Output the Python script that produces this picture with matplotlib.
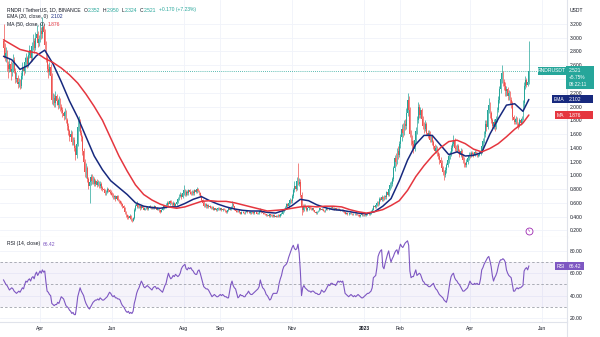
"""RNDR/USDT daily candles with EMA 20, MA 50 and an RSI 14 pane."""
import matplotlib

matplotlib.use("Agg")
import matplotlib.dates as mdates
import matplotlib.pyplot as plt
import numpy as np
import pandas as pd
from matplotlib.patches import Rectangle
from matplotlib.ticker import FormatStrFormatter, FuncFormatter
from matplotlib.transforms import blended_transform_factory

plt.rcParams["font.family"] = ["Liberation Sans", "DejaVu Sans"]

start_date = "2022-03-01"
first_open = 2.95

# daily closes, one row per week
closes = [
    2.85, 2.72, 2.78, 2.60, 2.55, 2.62, 2.50,
    2.55, 2.68, 2.52, 2.40, 2.42, 2.33, 2.36,
    2.30, 2.45, 2.58, 2.52, 2.65, 2.70, 2.62,
    2.75, 2.82, 2.70, 2.88, 2.95, 2.85, 3.00,
    3.05, 2.92, 2.98, 3.10, 3.05, 3.15, 3.08,
    2.90, 2.70, 2.55, 2.50, 2.58, 2.45, 2.10,
    2.12, 2.05, 2.15, 2.08, 2.02, 2.10, 2.00,
    1.95, 1.90, 1.86, 1.92, 1.80, 1.72, 1.65,
    1.55, 1.60, 1.48, 1.52, 1.40, 1.30, 1.45,
    1.70, 1.78, 1.62, 1.55, 1.35, 1.20, 1.05,
    1.10, 0.95, 0.85, 0.90, 0.98, 0.92, 0.95,
    0.88, 0.92, 0.86, 0.90, 0.84, 0.88, 0.82,
    0.80, 0.78, 0.74, 0.76, 0.80, 0.78, 0.76,
    0.74, 0.72, 0.68, 0.70, 0.66, 0.70, 0.64,
    0.62, 0.60, 0.58, 0.55, 0.52, 0.46, 0.42,
    0.40, 0.38, 0.41, 0.36, 0.34, 0.38, 0.50,
    0.55, 0.58, 0.54, 0.56, 0.52, 0.55, 0.53,
    0.50, 0.52, 0.54, 0.51, 0.53, 0.55, 0.52,
    0.54, 0.52, 0.55, 0.53, 0.50, 0.52, 0.49,
    0.47, 0.50, 0.52, 0.55, 0.53, 0.57, 0.60,
    0.58, 0.62, 0.60, 0.57, 0.60, 0.56, 0.58,
    0.61, 0.66, 0.70, 0.72, 0.68, 0.74, 0.78,
    0.72, 0.76, 0.74, 0.78, 0.75, 0.73, 0.76,
    0.74, 0.78, 0.76, 0.80, 0.77, 0.74, 0.70,
    0.64, 0.60, 0.56, 0.58, 0.55, 0.57, 0.54,
    0.55, 0.52, 0.54, 0.50, 0.52, 0.49, 0.51,
    0.53, 0.50, 0.52, 0.49, 0.51, 0.50, 0.48,
    0.46, 0.49, 0.52, 0.50, 0.53, 0.58, 0.55,
    0.50, 0.48, 0.47, 0.49, 0.46, 0.44, 0.47,
    0.46, 0.45, 0.47, 0.48, 0.46, 0.47, 0.45,
    0.47, 0.46, 0.45, 0.47, 0.46, 0.44, 0.45,
    0.48, 0.50, 0.46, 0.45, 0.44, 0.43, 0.42,
    0.42, 0.41, 0.43, 0.42, 0.41, 0.42, 0.40,
    0.41, 0.40, 0.42, 0.41, 0.43, 0.44, 0.48,
    0.50, 0.54, 0.58, 0.55, 0.60, 0.64, 0.62,
    0.70, 0.78, 0.85, 0.80, 0.92, 0.88, 0.90,
    0.72, 0.55, 0.50, 0.56, 0.54, 0.50, 0.52,
    0.54, 0.52, 0.50, 0.52, 0.49, 0.47, 0.45,
    0.47, 0.49, 0.52, 0.50, 0.51, 0.49, 0.48,
    0.50, 0.52, 0.51, 0.53, 0.52, 0.54, 0.52,
    0.53, 0.51, 0.52, 0.50, 0.51, 0.50, 0.49,
    0.50, 0.48, 0.46, 0.44, 0.45, 0.43, 0.44,
    0.45, 0.44, 0.43, 0.44, 0.43, 0.44, 0.43,
    0.42, 0.41, 0.42, 0.43, 0.42, 0.43, 0.42,
    0.43, 0.44, 0.43, 0.45, 0.48, 0.50, 0.55,
    0.54, 0.57, 0.60, 0.58, 0.66, 0.64, 0.68,
    0.66, 0.70, 0.68, 0.75, 0.72, 0.80, 0.86,
    0.88, 0.95, 1.10, 1.25, 1.20, 1.35, 1.30,
    1.45, 1.55, 1.68, 1.62, 1.75, 1.72, 1.90,
    2.10, 1.95, 1.60, 1.50, 1.45, 1.38, 1.52,
    1.65, 1.80, 2.00, 1.88, 1.95, 1.82, 1.72,
    1.68, 1.75, 1.62, 1.58, 1.62, 1.52, 1.55,
    1.48, 1.42, 1.36, 1.40, 1.32, 1.28, 1.22,
    1.18, 1.10, 1.05, 1.00, 1.08, 1.15, 1.22,
    1.28, 1.32, 1.40, 1.45, 1.52, 1.40, 1.38,
    1.42, 1.35, 1.30, 1.36, 1.28, 1.22, 1.18,
    1.15, 1.20, 1.25, 1.30, 1.28, 1.33, 1.31,
    1.30, 1.34, 1.32, 1.28, 1.30, 1.33, 1.35,
    1.42, 1.50, 1.60, 1.75, 1.70, 1.95, 2.02,
    1.90, 1.80, 1.72, 1.78, 1.70, 1.82, 1.95,
    2.10, 2.25, 2.40, 2.48, 2.35, 2.30, 2.22,
    2.25, 2.15, 2.20, 2.10, 2.05, 1.85, 1.80,
    1.78, 1.82, 1.75, 1.72, 1.80, 1.76, 1.82,
    2.05, 2.30, 2.38, 2.32, 2.352, 2.521,
]

highs = [
    3.20, 2.92, 2.86, 2.82, 2.66, 2.70, 2.66,
    2.64, 2.76, 2.72, 2.56, 2.50, 2.46, 2.42,
    2.40, 2.50, 2.64, 2.64, 2.72, 2.78, 2.74,
    2.80, 2.90, 2.86, 2.94, 3.05, 3.00, 3.08,
    3.18, 3.10, 3.04, 3.22, 3.16, 3.30, 3.20,
    3.12, 2.95, 2.76, 2.62, 2.64, 2.62, 2.48,
    2.20, 2.18, 2.22, 2.18, 2.12, 2.16, 2.12,
    2.04, 1.99, 1.94, 1.98, 1.95, 1.84, 1.76,
    1.68, 1.66, 1.64, 1.56, 1.55, 1.44, 1.50,
    1.80, 1.86, 1.82, 1.66, 1.58, 1.40, 1.24,
    1.18, 1.14, 0.98, 0.94, 1.02, 1.02, 0.99,
    0.97, 0.95, 0.94, 0.93, 0.92, 0.91, 0.90,
    0.84, 0.82, 0.80, 0.78, 0.83, 0.82, 0.80,
    0.78, 0.76, 0.74, 0.72, 0.72, 0.72, 0.71,
    0.66, 0.64, 0.62, 0.60, 0.57, 0.54, 0.48,
    0.44, 0.42, 0.43, 0.42, 0.38, 0.40, 0.52,
    0.58, 0.63, 0.59, 0.58, 0.57, 0.57, 0.56,
    0.54, 0.53, 0.56, 0.55, 0.54, 0.57, 0.56,
    0.56, 0.55, 0.57, 0.56, 0.54, 0.53, 0.53,
    0.50, 0.51, 0.54, 0.57, 0.56, 0.59, 0.63,
    0.62, 0.64, 0.64, 0.61, 0.62, 0.61, 0.60,
    0.63, 0.68, 0.73, 0.76, 0.74, 0.77, 0.86,
    0.80, 0.78, 0.78, 0.80, 0.80, 0.77, 0.78,
    0.78, 0.80, 0.80, 0.83, 0.82, 0.79, 0.76,
    0.72, 0.66, 0.62, 0.60, 0.60, 0.58, 0.58,
    0.57, 0.56, 0.55, 0.55, 0.53, 0.53, 0.52,
    0.54, 0.54, 0.53, 0.53, 0.52, 0.52, 0.51,
    0.49, 0.50, 0.53, 0.53, 0.55, 0.63, 0.59,
    0.56, 0.51, 0.49, 0.50, 0.50, 0.47, 0.48,
    0.48, 0.47, 0.48, 0.49, 0.49, 0.48, 0.48,
    0.48, 0.48, 0.47, 0.48, 0.48, 0.47, 0.46,
    0.49, 0.52, 0.51, 0.47, 0.46, 0.45, 0.44,
    0.43, 0.43, 0.44, 0.44, 0.43, 0.43, 0.43,
    0.42, 0.42, 0.43, 0.43, 0.44, 0.46, 0.50,
    0.52, 0.56, 0.60, 0.60, 0.62, 0.67, 0.66,
    0.73, 0.82, 0.92, 0.88, 0.98, 1.18, 0.96,
    0.94, 0.76, 0.58, 0.58, 0.58, 0.56, 0.54,
    0.56, 0.56, 0.54, 0.53, 0.53, 0.50, 0.48,
    0.48, 0.50, 0.53, 0.53, 0.52, 0.52, 0.50,
    0.51, 0.53, 0.53, 0.54, 0.54, 0.55, 0.55,
    0.54, 0.54, 0.53, 0.53, 0.52, 0.52, 0.51,
    0.51, 0.51, 0.49, 0.47, 0.46, 0.46, 0.45,
    0.46, 0.46, 0.45, 0.45, 0.45, 0.45, 0.45,
    0.44, 0.43, 0.43, 0.44, 0.44, 0.44, 0.44,
    0.44, 0.45, 0.45, 0.46, 0.49, 0.52, 0.57,
    0.57, 0.59, 0.62, 0.62, 0.68, 0.69, 0.71,
    0.70, 0.72, 0.72, 0.77, 0.78, 0.82, 0.90,
    0.92, 0.98, 1.14, 1.30, 1.32, 1.40, 1.42,
    1.50, 1.60, 1.74, 1.76, 1.80, 1.82, 1.98,
    2.20, 2.16, 2.00, 1.66, 1.58, 1.52, 1.56,
    1.70, 1.86, 2.06, 2.04, 2.00, 1.98, 1.86,
    1.78, 1.80, 1.78, 1.66, 1.66, 1.64, 1.58,
    1.58, 1.52, 1.46, 1.44, 1.42, 1.36, 1.32,
    1.26, 1.22, 1.14, 1.08, 1.12, 1.18, 1.26,
    1.32, 1.36, 1.44, 1.50, 1.58, 1.54, 1.44,
    1.46, 1.45, 1.38, 1.40, 1.38, 1.31, 1.26,
    1.20, 1.23, 1.28, 1.34, 1.34, 1.36, 1.36,
    1.34, 1.37, 1.36, 1.34, 1.33, 1.35, 1.38,
    1.46, 1.54, 1.65, 1.80, 1.80, 2.00, 2.12,
    2.06, 1.94, 1.84, 1.82, 1.80, 1.86, 2.00,
    2.16, 2.30, 2.46, 2.60, 2.52, 2.40, 2.36,
    2.30, 2.28, 2.24, 2.22, 2.14, 2.08, 1.88,
    1.84, 1.86, 1.85, 1.78, 1.83, 1.83, 1.86,
    2.10, 2.36, 2.45, 2.42, 2.40, 2.950,
]

lows = [
    2.70, 2.66, 2.64, 2.52, 2.42, 2.50, 2.38,
    2.44, 2.50, 2.48, 2.34, 2.35, 2.27, 2.28,
    2.26, 2.27, 2.40, 2.46, 2.48, 2.58, 2.56,
    2.58, 2.70, 2.64, 2.66, 2.82, 2.78, 2.82,
    2.94, 2.86, 2.88, 2.94, 2.98, 3.00, 3.00,
    2.84, 2.64, 2.50, 2.42, 2.46, 2.38, 2.04,
    2.02, 2.00, 2.00, 2.02, 1.96, 1.98, 1.94,
    1.90, 1.85, 1.80, 1.82, 1.76, 1.66, 1.58,
    1.50, 1.50, 1.44, 1.44, 1.36, 1.22, 1.25,
    1.42, 1.64, 1.58, 1.50, 1.30, 1.12, 0.98,
    0.96, 0.90, 0.80, 0.60, 0.86, 0.88, 0.88,
    0.85, 0.85, 0.83, 0.84, 0.81, 0.82, 0.79,
    0.77, 0.75, 0.71, 0.72, 0.74, 0.75, 0.73,
    0.71, 0.69, 0.66, 0.66, 0.63, 0.64, 0.62,
    0.60, 0.58, 0.56, 0.53, 0.50, 0.44, 0.39,
    0.37, 0.36, 0.36, 0.34, 0.32, 0.33, 0.37,
    0.48, 0.53, 0.52, 0.52, 0.50, 0.51, 0.51,
    0.49, 0.49, 0.51, 0.50, 0.50, 0.52, 0.51,
    0.51, 0.51, 0.51, 0.52, 0.49, 0.49, 0.47,
    0.45, 0.46, 0.49, 0.51, 0.52, 0.52, 0.56,
    0.56, 0.57, 0.58, 0.55, 0.56, 0.55, 0.55,
    0.57, 0.60, 0.64, 0.68, 0.66, 0.67, 0.72,
    0.70, 0.70, 0.72, 0.72, 0.73, 0.71, 0.71,
    0.72, 0.72, 0.74, 0.74, 0.75, 0.72, 0.68,
    0.62, 0.58, 0.54, 0.54, 0.53, 0.53, 0.52,
    0.52, 0.51, 0.51, 0.49, 0.49, 0.48, 0.48,
    0.50, 0.49, 0.49, 0.48, 0.48, 0.49, 0.47,
    0.45, 0.45, 0.48, 0.49, 0.49, 0.52, 0.54,
    0.49, 0.47, 0.46, 0.46, 0.45, 0.43, 0.43,
    0.45, 0.44, 0.44, 0.46, 0.45, 0.45, 0.44,
    0.44, 0.45, 0.44, 0.44, 0.45, 0.43, 0.43,
    0.44, 0.47, 0.45, 0.44, 0.43, 0.42, 0.41,
    0.41, 0.40, 0.40, 0.41, 0.40, 0.40, 0.39,
    0.39, 0.39, 0.39, 0.40, 0.40, 0.42, 0.43,
    0.46, 0.49, 0.52, 0.53, 0.54, 0.58, 0.59,
    0.60, 0.67, 0.75, 0.77, 0.78, 0.86, 0.84,
    0.68, 0.42, 0.46, 0.48, 0.52, 0.48, 0.48,
    0.50, 0.51, 0.49, 0.49, 0.48, 0.46, 0.44,
    0.44, 0.46, 0.48, 0.49, 0.49, 0.48, 0.47,
    0.47, 0.49, 0.50, 0.50, 0.51, 0.51, 0.51,
    0.51, 0.50, 0.50, 0.49, 0.49, 0.49, 0.48,
    0.48, 0.47, 0.45, 0.43, 0.43, 0.42, 0.42,
    0.43, 0.43, 0.42, 0.42, 0.42, 0.42, 0.42,
    0.41, 0.40, 0.40, 0.41, 0.41, 0.41, 0.41,
    0.41, 0.42, 0.42, 0.42, 0.44, 0.47, 0.49,
    0.52, 0.53, 0.56, 0.56, 0.57, 0.62, 0.62,
    0.63, 0.64, 0.66, 0.66, 0.70, 0.70, 0.78,
    0.82, 0.85, 0.92, 1.06, 1.14, 1.16, 1.24,
    1.26, 1.40, 1.50, 1.56, 1.58, 1.66, 1.68,
    1.86, 1.90, 1.56, 1.44, 1.38, 1.32, 1.36,
    1.48, 1.60, 1.76, 1.84, 1.84, 1.78, 1.68,
    1.62, 1.64, 1.58, 1.54, 1.54, 1.48, 1.48,
    1.44, 1.38, 1.32, 1.33, 1.28, 1.24, 1.16,
    1.14, 1.06, 1.00, 0.93, 0.98, 1.04, 1.12,
    1.18, 1.24, 1.28, 1.36, 1.42, 1.36, 1.34,
    1.34, 1.32, 1.26, 1.27, 1.25, 1.18, 1.12,
    1.12, 1.12, 1.17, 1.22, 1.25, 1.26, 1.28,
    1.27, 1.28, 1.29, 1.26, 1.26, 1.28, 1.30,
    1.33, 1.38, 1.47, 1.56, 1.64, 1.68, 1.90,
    1.84, 1.76, 1.66, 1.68, 1.64, 1.68, 1.78,
    1.92, 2.05, 2.20, 2.34, 2.30, 2.24, 2.16,
    2.16, 2.10, 2.10, 2.04, 1.98, 1.80, 1.74,
    1.74, 1.74, 1.72, 1.68, 1.70, 1.73, 1.74,
    1.80, 2.00, 2.26, 2.28, 2.30, 2.324,
]

# RSI(14) per day, same weekly rows
rsi = [
    54, 52, 50, 49, 47, 45, 46,
    47, 46, 44, 43, 42, 43, 44,
    43, 45, 47, 46, 50, 53, 52,
    54, 55, 53, 56, 57, 55, 59,
    61, 58, 60, 62, 60, 63, 61,
    62, 52, 44, 43, 41, 40, 33,
    32, 31, 32, 32, 34, 33, 36,
    39, 38, 37, 34, 31, 30, 29,
    27, 26, 24, 25, 23, 23, 30,
    39, 43, 47, 44, 42, 40, 36,
    33, 31, 29, 28, 30, 32, 34,
    35, 36, 36, 37, 36, 38, 37,
    36, 36, 37, 38, 39, 41, 43,
    42, 40, 39, 40, 38, 38, 37,
    37, 36, 33, 31, 30, 28, 26,
    25, 26, 24, 25, 24, 26, 33,
    37, 42, 45, 47, 50, 53, 51,
    48, 47, 48, 49, 48, 47, 46,
    45, 47, 48, 48, 46, 47, 46,
    45, 44, 43, 46, 49, 51, 56,
    60, 57, 55, 56, 58, 57, 59,
    58, 57, 58, 60, 64, 66, 67,
    68, 64, 63, 65, 64, 65, 63,
    62, 60, 59, 59, 62, 63, 60,
    56, 52, 48, 47, 46, 46, 45,
    43, 41, 39, 40, 41, 40, 39,
    39, 40, 41, 40, 41, 40, 39,
    39, 38, 38, 44, 50, 53, 49,
    47, 46, 42, 38, 39, 41, 40,
    40, 39, 39, 41, 42, 44, 42,
    41, 41, 42, 43, 44, 45, 46,
    48, 54, 50, 47, 46, 44, 41,
    40, 38, 36, 37, 40, 42, 42,
    42, 42, 45, 51, 55, 58, 63,
    66, 67, 68, 70, 74, 77, 80,
    83, 85, 82, 81, 82, 86, 78,
    62, 40, 47, 49, 47, 46, 45,
    44, 44, 43, 44, 44, 43, 42,
    42, 41, 41, 42, 45, 44, 43,
    44, 46, 48, 50, 49, 51, 51,
    50, 50, 49, 51, 53, 52, 53,
    52, 53, 48, 42, 41, 40, 39,
    40, 41, 40, 39, 40, 39, 40,
    41, 40, 39, 38, 38, 39, 40,
    41, 42, 42, 43, 44, 47, 56,
    57, 58, 65, 75, 78, 80, 81,
    66, 64, 69, 73, 77, 80, 74,
    70, 73, 75, 78, 80, 81, 77,
    82, 86, 84, 83, 85, 87, 88,
    89, 85, 62, 56, 57, 57, 60,
    63, 58, 59, 60, 59, 56, 53,
    52, 50, 50, 49, 48, 48, 49,
    50, 51, 48, 46, 45, 43, 41,
    40, 39, 38, 36, 35, 34, 38,
    45, 52, 57, 59, 60, 56, 54,
    53, 51, 50, 48, 46, 44, 44,
    45, 46, 47, 50, 53, 51, 50,
    50, 51, 50, 51, 50, 50, 55,
    63, 65, 68, 70, 72, 74, 75,
    71, 66, 58, 53, 56, 58, 61,
    66, 70, 72, 72, 73, 72, 70,
    63, 60, 58, 57, 56, 50, 44,
    44, 46, 47, 46, 47, 47, 48,
    49, 62, 64, 65, 63, 66.42,
]

# EMA(20) and MA(50) read every 7th day, plus the last day
ema20 = [
    2.73, 2.68, 2.54, 2.60, 2.74, 2.82, 2.62, 2.36, 2.08, 1.84,
    1.56, 1.28, 1.08, 0.92, 0.82, 0.72, 0.60, 0.55, 0.53, 0.52,
    0.54, 0.54, 0.59, 0.65, 0.69, 0.63, 0.58, 0.54, 0.51, 0.49,
    0.48, 0.48, 0.46, 0.45, 0.49, 0.56, 0.65, 0.63, 0.57, 0.53,
    0.50, 0.49, 0.47, 0.45, 0.44, 0.47, 0.55, 0.66, 0.92, 1.22,
    1.45, 1.58, 1.58, 1.44, 1.30, 1.34, 1.28, 1.29, 1.33, 1.60,
    1.82, 2.02, 2.04, 1.93, 2.102,
]
ma50 = [
    2.97, 2.90, 2.83, 2.80, 2.78, 2.70, 2.64, 2.56, 2.46, 2.34,
    2.18, 2.00, 1.80, 1.54, 1.28, 1.06, 0.86, 0.72, 0.64, 0.58,
    0.54, 0.52, 0.54, 0.58, 0.62, 0.63, 0.62, 0.62, 0.60, 0.57,
    0.54, 0.51, 0.48, 0.49, 0.50, 0.52, 0.54, 0.55, 0.54, 0.55,
    0.55, 0.54, 0.50, 0.47, 0.45, 0.47, 0.50, 0.56, 0.63, 0.78,
    0.98, 1.14, 1.28, 1.40, 1.49, 1.51, 1.46, 1.38, 1.34, 1.39,
    1.46, 1.56, 1.67, 1.76, 1.876,
]

tick_dates = ["2022-04-01", "2022-06-01", "2022-08-01", "2022-09-01", "2022-11-01",
              "2023-01-01", "2023-02-01", "2023-04-01", "2023-06-01"]
tick_labels = ["Apr", "Jun", "Aug", "Sep", "Nov", "2023", "Feb", "Apr", "Jun"]
price_ticks = [0.2, 0.4, 0.6, 0.8, 1.0, 1.2, 1.4, 1.6, 1.8, 2.0, 2.2, 2.4, 2.6, 2.8, 3.0, 3.2]
rsi_ticks = [20, 40, 60, 80]

UP = "#26a69a"
DOWN = "#ef5350"
EMA_C = "#17297e"
MA_C = "#e5363f"
RSI_C = "#7e57c2"
TEXT = "#131722"
GRID = "#f0f3fa"
BORDER = "#e0e3eb"
FS = 3.6
W, H = 600, 337

fig = plt.figure(figsize=(W / 100, H / 100), dpi=100, facecolor="white")


def add_axes_px(left, top, width, height, **kw):
    return fig.add_axes([left / W, 1 - (top + height) / H, width / W, height / H], **kw)


dates = pd.date_range(start_date, periods=len(closes), freq="D")
x = mdates.date2num(dates)
c = np.asarray(closes)
o = np.r_[first_open, c[:-1]]
hi = np.maximum(np.asarray(highs), np.maximum(o, c))
lo = np.minimum(np.asarray(lows), np.minimum(o, c))
colors = np.where(c >= o, UP, DOWN)
sample_x = np.r_[x[::7], x[-1]]

ax = add_axes_px(0, 0, 567, 237)
rs = add_axes_px(0, 237, 567, 85, sharex=ax)

# candles
ax.vlines(x, lo, hi, colors=colors, lw=0.5, zorder=2)
ax.bar(x, np.maximum(np.abs(c - o), 0.004), bottom=np.minimum(o, c), width=0.7,
       color=colors, lw=0, zorder=3)
ax.plot(sample_x, ema20, color=EMA_C, lw=1.1, zorder=4, solid_capstyle="round")
ax.plot(sample_x, ma50, color=MA_C, lw=1.1, zorder=4, solid_capstyle="round")
ax.axhline(c[-1], color=UP, lw=0.6, ls=(0, (1, 1.5)), zorder=1)

ax.set_xlim(x[0] - 3.0, x[0] + 478.4)
ax.set_ylim(0.102, 3.549)
ax.set_yticks(price_ticks)


def price_label(v, _pos):
    # the last-price tag covers the scale label right under it
    if c[-1] - 0.25 < v < c[-1] - 0.06:
        return ""
    return f"{v:.3f}"


ax.yaxis.set_major_formatter(FuncFormatter(price_label))

# rsi pane
rs.axhspan(30, 70, color=RSI_C, alpha=0.07, lw=0)
for lvl in (70, 50, 30):
    rs.axhline(lvl, color="#9ea1aa", lw=0.6, ls=(0, (3, 2.5)))
rs.plot(x, rsi, color=RSI_C, lw=0.8)
rs.set_ylim(16.4, 92.4)
rs.set_yticks(rsi_ticks)
rs.yaxis.set_major_formatter(FormatStrFormatter("%.2f"))
rs.set_xticks(mdates.date2num(pd.to_datetime(tick_dates)))
rs.set_xticklabels(tick_labels)

for a in (ax, rs):
    a.grid(True, color=GRID, lw=0.6)
    a.set_axisbelow(True)
    a.yaxis.tick_right()
    a.tick_params(axis="y", length=0, pad=2.2, labelsize=FS, labelcolor=TEXT)
    a.tick_params(axis="x", length=0, pad=2.6, labelsize=FS, labelcolor=TEXT)
    for side in ("top", "left"):
        a.spines[side].set_visible(False)
    for side in ("right", "bottom"):
        a.spines[side].set_color(BORDER)
        a.spines[side].set_linewidth(0.8)
ax.tick_params(axis="x", labelbottom=False)
for lbl in rs.get_xticklabels():
    if lbl.get_text() == "2023":
        lbl.set_fontweight("bold")

fig.add_artist(plt.Line2D([567 / W, 567 / W], [0, 1 - 322 / H], transform=fig.transFigure,
                          color=BORDER, lw=0.8))

# event marker at the bottom of the price pane
ev = blended_transform_factory(ax.transData, ax.transAxes)
ax.plot(x[-1], 0.025, marker="o", ms=5, mfc="white", mec="#9c27b0", mew=0.6,
        transform=ev, clip_on=False, zorder=6)
ax.text(x[-1], 0.025, "ϟ", color="#9c27b0", fontsize=3.2, ha="center", va="center",
        transform=ev, zorder=7)

renderer = fig.canvas.get_renderer()


def write_row(x0, y0, pieces):
    pos = x0
    for text, color, gap in pieces:
        t = fig.text(pos / W, 1 - y0 / H, text, color=color, fontsize=FS,
                     ha="left", va="center", zorder=10)
        pos += t.get_window_extent(renderer).width + gap


def fmt(v):
    return f"{v:.3f}"


write_row(7, 10, [("RNDR / TetherUS, 1D, BINANCE", TEXT, 3),
                  ("O", TEXT, 0), (fmt(o[-1]), UP, 3),
                  ("H", TEXT, 0), (fmt(hi[-1]), UP, 3),
                  ("L", TEXT, 0), (fmt(lo[-1]), UP, 3),
                  ("C", TEXT, 0), (fmt(c[-1]), UP, 3),
                  ("+0.170 (+7.23%)", UP, 0)])
write_row(7, 16.7, [("EMA (20, close, 0)", TEXT, 3), (fmt(ema20[-1]), EMA_C, 0)])
write_row(7, 24.5, [("MA (50, close, 0)", TEXT, 3), (fmt(ma50[-1]), MA_C, 0)])
write_row(7, 244, [("RSI (14, close)", TEXT, 3), (f"{rsi[-1]:.2f}", RSI_C, 0)])
fig.text(570 / W, 1 - 10 / H, "USDT", color=TEXT, fontsize=FS, ha="left", va="center")


def box(x0, x1, yc, h_up, h_dn, color):
    fig.add_artist(Rectangle((x0 / W, (yc - h_dn) / H), (x1 - x0) / W, (h_up + h_dn) / H,
                             transform=fig.transFigure, facecolor=color, edgecolor="none",
                             zorder=8))


def label(xp, yc, text, ha="left", size=FS):
    fig.text(xp / W, yc / H, text, color="white", fontsize=size, ha=ha, va="center", zorder=9)


def tag(axis, value, name, name_x0, value_x1, color, text):
    yc = axis.transData.transform((x[-1], value))[1]
    box(name_x0, 566, yc, 4, 4, color)
    box(566, value_x1, yc, 4, 4, color)
    label((name_x0 + 566) / 2, yc, name, ha="center")
    label(569, yc, text)


# last price tag with countdown rows
yp = ax.transData.transform((x[-1], c[-1]))[1]
box(538, 566, yp, 4, 4, UP)
box(566, 594, yp, 4.3, 18, UP)
label(552, yp, "RNDRUSDT", ha="center")
label(569, yp, fmt(c[-1]))
label(569, yp - 7.2, "+5.75%", size=3.4)
label(569, yp - 13.8, "08:22:11", size=3.4)

tag(ax, ema20[-1], "EMA", 552, 593, EMA_C, fmt(ema20[-1]))
tag(ax, ma50[-1], "MA", 555, 593, MA_C, fmt(ma50[-1]))
tag(rs, rsi[-1], "RSI", 555, 584, RSI_C, f"{rsi[-1]:.2f}")

fig.savefig("out.png", dpi=100, facecolor="white")
